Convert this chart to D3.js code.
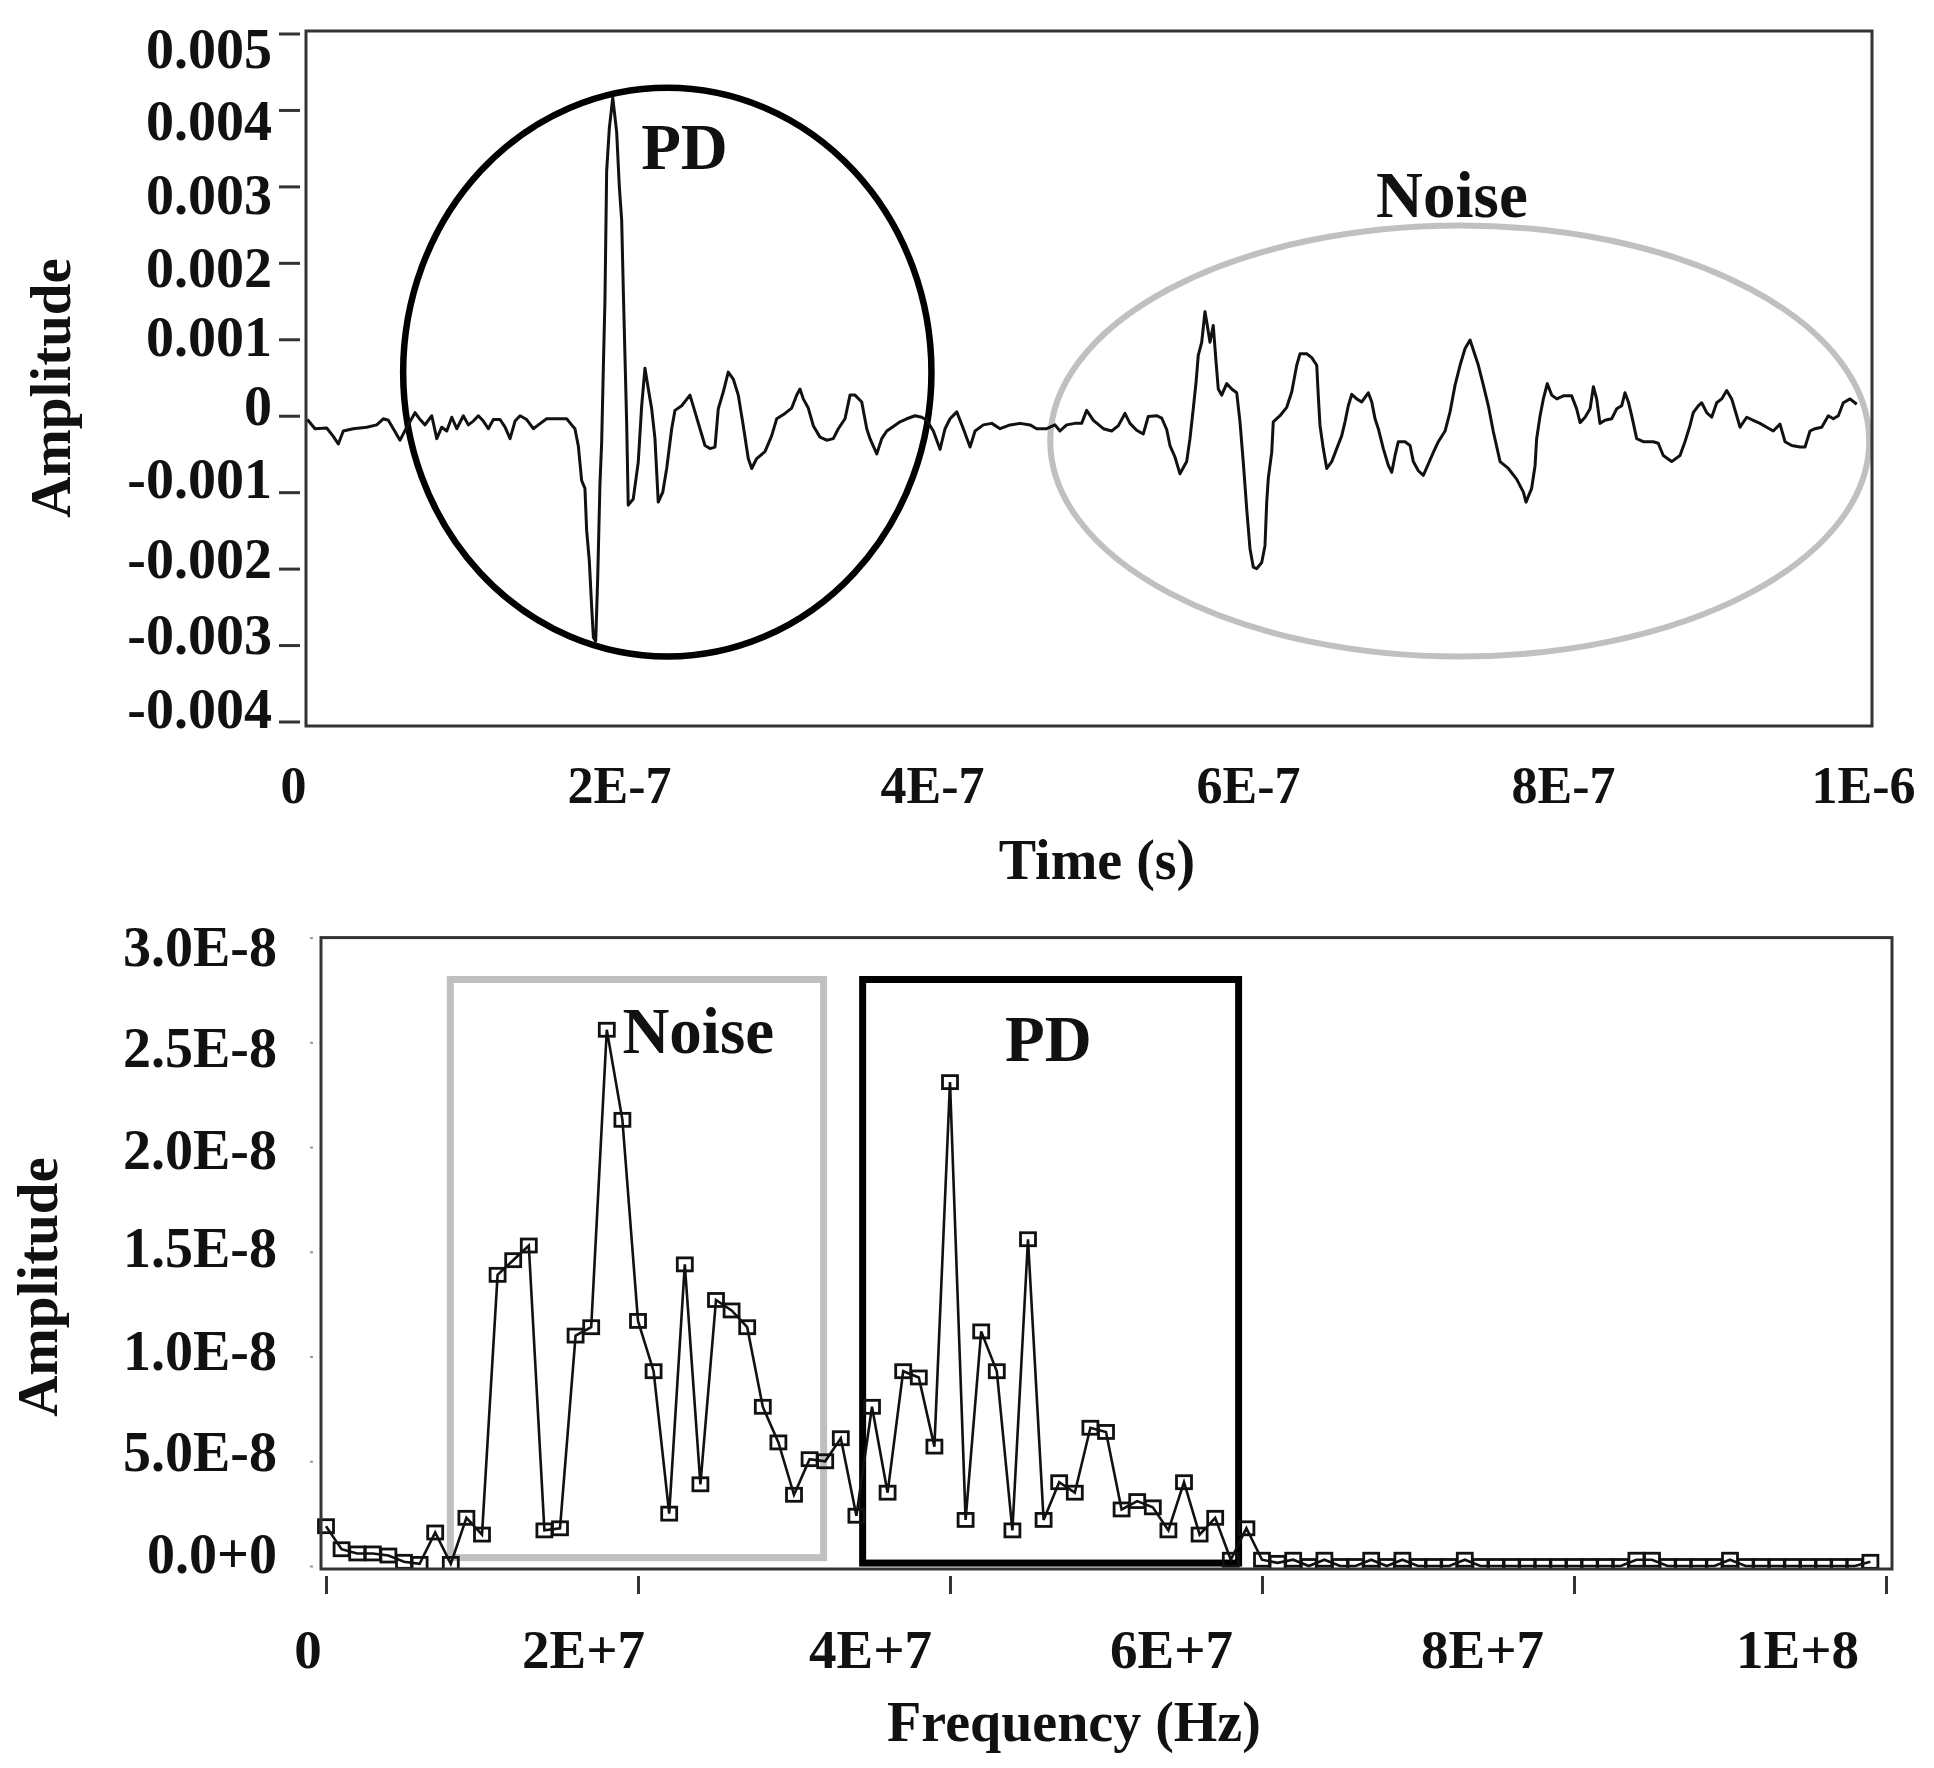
<!DOCTYPE html>
<html>
<head>
<meta charset="utf-8">
<script src="https://cdn.jsdelivr.net/npm/d3@7"></script>
<style>
  html, body { margin: 0; padding: 0; background: #fff; }
  svg { display: block; }
  text { font-family: "Liberation Serif", "Times New Roman", serif; font-weight: bold; fill: #111; }
</style>
</head>
<body>
<svg id="chart" width="1934" height="1768"></svg>
<script>
// ---- time domain signal (time in ns, amplitude in 1e-3) ----
const timeNs = [
  4.7, 9.6, 17.1, 21.3, 24.5, 27.7, 34.1, 42.7, 49.1, 53.3, 56.5, 59.7, 64.0, 67.8, 73.6, 76.8, 80.0, 84.3, 87.5, 90.7,
  93.9, 97.1, 100.3, 104.5, 107.7, 110.9, 114.1, 117.3, 120.5, 123.7, 128.0, 131.2, 134.4, 137.6, 140.8, 145.0, 149.3, 152.5, 157.8, 164.2,
  170.6, 173.8, 175.9, 178.1, 180.2, 182.3, 183.4, 185.1, 186.6, 187.7, 189.2, 190.5, 191.9, 193.0, 194.1, 195.1, 196.2, 197.9, 200.1, 202.6,
  204.3, 205.8, 206.9, 209.0, 210.0, 213.2, 216.4, 218.6, 220.7, 223.5, 225.0, 227.1, 229.2, 232.1, 234.6, 237.8, 239.9, 244.2, 249.5, 252.7,
  255.9, 259.1, 262.3, 265.5, 267.6, 270.8, 274.0, 277.2, 280.4, 283.6, 286.8, 289.0, 292.2, 297.5, 301.8, 305.0, 310.3, 314.6, 317.8, 319.9,
  322.0, 325.2, 328.4, 332.7, 337.0, 341.2, 344.4, 348.7, 351.9, 355.1, 359.4, 362.6, 364.7, 369.0, 372.2, 375.4, 379.6, 383.9, 388.2, 393.5,
  397.8, 401.0, 405.2, 409.5, 412.7, 415.9, 420.2, 424.4, 428.7, 431.9, 437.2, 442.6, 447.9, 454.3, 460.7, 467.1, 471.3, 477.7, 483.0, 486.2,
  490.5, 495.8, 500.1, 503.3, 507.6, 514.0, 519.3, 523.6, 527.8, 531.0, 535.3, 539.5, 542.7, 548.1, 551.3, 554.5, 556.6, 559.8, 563.0, 567.3,
  569.4, 571.5, 573.3, 574.7, 576.9, 579.0, 580.1, 582.2, 584.3, 586.1, 587.5, 589.7, 592.9, 596.1, 599.3, 601.4, 603.5, 604.6, 605.7, 607.8,
  609.9, 612.1, 615.3, 617.4, 618.5, 619.5, 621.7, 622.7, 627.0, 631.3, 634.5, 637.7, 639.8, 644.1, 647.3, 650.5, 651.6, 652.6, 654.7, 656.9,
  660.1, 663.3, 666.5, 668.6, 670.7, 672.9, 676.1, 679.3, 683.5, 685.7, 687.8, 689.9, 693.1, 696.3, 698.5, 700.6, 702.7, 707.0, 710.2, 712.3,
  715.5, 718.7, 721.9, 725.1, 728.3, 732.6, 735.8, 739.0, 742.2, 745.4, 748.6, 751.8, 753.9, 757.1, 760.3, 763.5, 767.8, 773.1, 778.4, 782.7,
  784.4, 788.0, 790.2, 791.2, 793.4, 795.5, 798.0, 800.8, 804.1, 808.3, 813.6, 816.8, 819.0, 822.2, 825.4, 827.5, 829.6, 831.7, 834.9, 839.2,
  842.4, 845.6, 847.7, 849.9, 852.0, 855.2, 859.4, 865.8, 869.0, 872.2, 877.6, 882.9, 886.1, 889.3, 891.4, 894.6, 896.8, 900.0, 903.2, 906.4,
  909.6, 912.8, 916.0, 919.2, 921.3, 925.6, 929.8, 934.1, 938.4, 942.6, 946.9, 950.1, 954.4, 959.7, 962.9, 966.1, 969.3, 973.6, 977.8, 981.0,
  984.2, 987.4, 991.7, 996.0
];
const amplitudeMilli = [
  -0.05, -0.17, -0.16, -0.27, -0.37, -0.2, -0.17, -0.15, -0.12, -0.04, -0.06, -0.17, -0.32, -0.17, 0.04, -0.05, -0.12, 0.0, -0.3, -0.15,
  -0.2, -0.02, -0.17, 0.0, -0.12, -0.07, 0.0, -0.07, -0.17, -0.05, -0.05, -0.15, -0.3, -0.07, 0.0, -0.05, -0.17, -0.12, -0.04, -0.04,
  -0.04, -0.12, -0.17, -0.4, -0.85, -0.95, -1.5, -1.9, -2.5, -2.9, -2.95, -2.1, -0.9, -0.35, 0.65, 1.5, 3.2, 3.76, 4.16, 3.71,
  3.0, 2.56, 1.6, -0.1, -1.17, -1.09, -0.61, 0.13, 0.62, 0.27, 0.09, -0.3, -1.13, -1.0, -0.69, -0.17, 0.07, 0.13, 0.27, 0.05,
  -0.17, -0.39, -0.43, -0.41, 0.09, 0.31, 0.57, 0.48, 0.27, -0.13, -0.56, -0.69, -0.56, -0.47, -0.26, -0.04, 0.03, 0.1, 0.27, 0.35,
  0.22, 0.1, -0.13, -0.28, -0.32, -0.3, -0.17, -0.04, 0.27, 0.27, 0.18, -0.17, -0.3, -0.5, -0.3, -0.2, -0.14, -0.08, -0.04, 0.0,
  -0.02, -0.06, -0.2, -0.44, -0.17, -0.04, 0.05, -0.17, -0.41, -0.2, -0.12, -0.1, -0.17, -0.12, -0.1, -0.12, -0.17, -0.17, -0.12, -0.2,
  -0.12, -0.1, -0.1, 0.07, -0.06, -0.17, -0.2, -0.13, 0.03, -0.1, -0.19, -0.24, -0.01, 0.0, -0.03, -0.18, -0.39, -0.54, -0.76, -0.6,
  -0.3, 0.09, 0.44, 0.79, 0.96, 1.36, 1.23, 0.96, 1.18, 0.7, 0.35, 0.27, 0.42, 0.35, 0.3, -0.08, -0.61, -0.91, -1.22, -1.74,
  -1.98, -2.0, -1.92, -1.7, -1.13, -0.82, -0.48, -0.08, 0.0, 0.11, 0.31, 0.66, 0.81, 0.81, 0.76, 0.66, 0.22, -0.13, -0.43, -0.69,
  -0.6, -0.43, -0.26, -0.08, 0.13, 0.28, 0.22, 0.18, 0.3, 0.18, -0.04, -0.17, -0.43, -0.65, -0.74, -0.52, -0.34, -0.34, -0.39, -0.6,
  -0.72, -0.78, -0.63, -0.48, -0.34, -0.2, 0.05, 0.4, 0.66, 0.88, 0.99, 0.79, 0.66, 0.4, 0.13, -0.21, -0.6, -0.69, -0.83, -1.0,
  -1.13, -0.95, -0.65, -0.3, 0.0, 0.22, 0.42, 0.27, 0.22, 0.26, 0.26, 0.09, -0.09, -0.02, 0.09, 0.38, 0.22, -0.1, -0.06, -0.04,
  0.09, 0.13, 0.3, 0.18, 0.0, -0.3, -0.34, -0.34, -0.36, -0.52, -0.6, -0.52, -0.34, -0.13, 0.04, 0.13, 0.17, 0.04, -0.02, 0.17,
  0.22, 0.33, 0.22, 0.0, -0.15, -0.02, -0.06, -0.1, -0.15, -0.2, -0.11, -0.34, -0.39, -0.41, -0.41, -0.2, -0.17, -0.15, 0.0, -0.04,
  0.0, 0.17, 0.22, 0.15
];
const timeTicks = [0, 2e-7, 4e-7, 6e-7, 8e-7, 1e-6];
const timeTickLabels = ["0", "2E-7", "4E-7", "6E-7", "8E-7", "1E-6"];
const ampTicks = [0.005, 0.004, 0.003, 0.002, 0.001, 0, -0.001, -0.002, -0.003, -0.004];
const ampTickLabels = ["0.005", "0.004", "0.003", "0.002", "0.001", "0", "-0.001", "-0.002", "-0.003", "-0.004"];

// ---- spectrum (frequency in MHz, amplitude in 1e-8) ----
const freqMHz = [
  0, 1, 2, 3, 4, 5, 6, 7, 8, 9, 10, 11, 12, 13, 14, 15, 16, 17, 18, 19,
  20, 21, 22, 23, 24, 25, 26, 27, 28, 29, 30, 31, 32, 33, 34, 35, 36, 37, 38, 39,
  40, 41, 42, 43, 44, 45, 46, 47, 48, 49, 50, 51, 52, 53, 54, 55, 56, 57, 58, 59,
  60, 61, 62, 63, 64, 65, 66, 67, 68, 69, 70, 71, 72, 73, 74, 75, 76, 77, 78, 79,
  80, 81, 82, 83, 84, 85, 86, 87, 88, 89, 90, 91, 92, 93, 94, 95, 96, 97, 98, 99
];
const spectrumE8 = [
  0.19, 0.08, 0.06, 0.06, 0.05, 0.02, 0.01, 0.16, 0.01, 0.23, 0.15, 1.39, 1.46, 1.53, 0.17, 0.18, 1.10, 1.14, 2.56, 2.13,
  1.17, 0.93, 0.25, 1.44, 0.39, 1.27, 1.22, 1.14, 0.76, 0.59, 0.34, 0.51, 0.50, 0.61, 0.24, 0.76, 0.35, 0.93, 0.90, 0.57,
  2.31, 0.22, 1.12, 0.93, 0.17, 1.56, 0.22, 0.40, 0.35, 0.66, 0.64, 0.27, 0.31, 0.28, 0.17, 0.40, 0.15, 0.23, 0.03, 0.18,
  0.03, 0.015, 0.03, 0.0, 0.03, 0.0, 0.0, 0.03, 0.0, 0.03, 0.0, 0.0, 0.0, 0.03, 0.0, 0.0, 0.0, 0.0, 0.0, 0.0,
  0.0, 0.0, 0.0, 0.0, 0.03, 0.03, 0.0, 0.0, 0.0, 0.0, 0.03, 0.0, 0.0, 0.0, 0.0, 0.0, 0.0, 0.0, 0.0, 0.02
];
const freqTicks = [0, 2e7, 4e7, 6e7, 8e7, 1e8];
const freqTickLabels = ["0", "2E+7", "4E+7", "6E+7", "8E+7", "1E+8"];
const specTicks = [0, 0.5e-8, 1e-8, 1.5e-8, 2e-8, 2.5e-8, 3e-8];
const specTickLabels = ["0.0+0", "5.0E-8", "1.0E-8", "1.5E-8", "2.0E-8", "2.5E-8", "3.0E-8"];

const svg = d3.select("#chart");

function styleLabels(g, size, dy) {
  g.select(".domain").remove();
  g.selectAll(".tick line").remove();
  g.selectAll(".tick text")
    .attr("x", 0).attr("y", dy).attr("dy", null)
    .attr("fill", "#111")
    .style("font-size", size + "px");
}

// ================= top: time domain =================
const topBox = { left: 306, right: 1872, top: 31, bottom: 726 };

const xTime = d3.scaleLinear().domain([0, 1e-6]).range([300, 1863]);
const yAmp = d3.scaleLinear().domain([-0.004, 0.005]).range([721.5, 33.5]);
// the original tick labels are not evenly spaced, so they get their own piecewise scales
const xTimeLabel = d3.scaleLinear().domain(timeTicks).range([293, 619, 932, 1248, 1563, 1863]);
const yAmpLabel = d3.scaleLinear().domain(ampTicks)
  .range([48.3, 120.8, 194, 267.5, 336.7, 405, 478, 558, 634, 708.6]);

const gTop = svg.append("g");

// PD / Noise ellipses
gTop.append("ellipse")
  .attr("cx", xTime(235e-9)).attr("cy", yAmp(0.00057))
  .attr("rx", xTime(169e-9) - xTime(0)).attr("ry", yAmp(0) - yAmp(0.00372))
  .attr("fill", "none").attr("stroke", "#000").attr("stroke-width", 6.5);
gTop.append("ellipse")
  .attr("cx", xTime(742e-9)).attr("cy", yAmp(-0.00033))
  .attr("rx", xTime(262e-9) - xTime(0)).attr("ry", yAmp(0) - yAmp(0.00282))
  .attr("fill", "none").attr("stroke", "#c0c0c0").attr("stroke-width", 6);

gTop.append("rect")
  .attr("x", topBox.left).attr("y", topBox.top)
  .attr("width", topBox.right - topBox.left).attr("height", topBox.bottom - topBox.top)
  .attr("fill", "none").attr("stroke", "#333").attr("stroke-width", 3);

const line = d3.line()
  .x(i => xTime(timeNs[i] * 1e-9))
  .y(i => yAmp(amplitudeMilli[i] * 1e-3));

gTop.append("path")
  .attr("d", line(d3.range(timeNs.length)))
  .attr("fill", "none").attr("stroke", "#111").attr("stroke-width", 3)
  .attr("stroke-linejoin", "round");

// y tick marks
gTop.append("g")
  .attr("transform", "translate(300,0)")
  .call(d3.axisLeft(yAmp).tickValues(ampTicks).tickSize(21).tickFormat(""))
  .call(g => g.select(".domain").remove())
  .call(g => g.selectAll(".tick line").attr("stroke", "#333").attr("stroke-width", 3));

// y tick labels
gTop.append("g")
  .attr("transform", "translate(272,0)")
  .call(d3.axisLeft(yAmpLabel).tickValues(ampTicks).tickFormat((d, i) => ampTickLabels[i]))
  .call(g => styleLabels(g, 56, 19));

// x tick labels (this panel has no x tick marks)
gTop.append("g")
  .attr("transform", "translate(0,803)")
  .call(d3.axisBottom(xTimeLabel).tickValues(timeTicks).tickFormat((d, i) => timeTickLabels[i]))
  .call(g => styleLabels(g, 52, 0));

gTop.append("text")
  .attr("transform", "translate(70,388) rotate(-90)")
  .attr("text-anchor", "middle").style("font-size", "57px")
  .text("Amplitude");

gTop.append("text")
  .attr("x", 1097).attr("y", 879)
  .attr("text-anchor", "middle").style("font-size", "56px")
  .text("Time (s)");

gTop.append("text")
  .attr("x", xTime(246e-9)).attr("y", yAmp(0.00323))
  .attr("text-anchor", "middle").style("font-size", "65px")
  .text("PD");
gTop.append("text")
  .attr("x", xTime(737e-9)).attr("y", yAmp(0.0026))
  .attr("text-anchor", "middle").style("font-size", "65px")
  .text("Noise");

// ================= bottom: spectrum =================
const botBox = { left: 321, right: 1892, top: 937.6, bottom: 1569 };

const xFreq = d3.scaleLinear().domain([0, 1e8]).range([326, 1886]);
const ySpec = d3.scaleLinear().domain([0, 3e-8]).range([1566, 937.6]);
const xFreqLabel = d3.scaleLinear().domain(freqTicks).range([307.5, 583, 870, 1171, 1482, 1797]);
const ySpecLabel = d3.scaleLinear().domain(specTicks)
  .range([1553.3, 1451.7, 1350, 1247.5, 1149, 1047.5, 946]);

const gBot = svg.append("g");

svg.append("defs").append("clipPath").attr("id", "spec-clip")
  .append("rect")
  .attr("x", botBox.left - 10).attr("y", botBox.top)
  .attr("width", botBox.right - botBox.left + 20).attr("height", botBox.bottom - botBox.top);

// Noise / PD boxes
gBot.append("rect")
  .attr("x", xFreq(7.97e6)).attr("y", ySpec(2.8e-8))
  .attr("width", xFreq(31.9e6) - xFreq(7.97e6)).attr("height", ySpec(0.04e-8) - ySpec(2.8e-8))
  .attr("fill", "none").attr("stroke", "#c0c0c0").attr("stroke-width", 7);
gBot.append("rect")
  .attr("x", xFreq(34.4e6)).attr("y", ySpec(2.8e-8))
  .attr("width", xFreq(58.5e6) - xFreq(34.4e6)).attr("height", ySpec(0.014e-8) - ySpec(2.8e-8))
  .attr("fill", "none").attr("stroke", "#000").attr("stroke-width", 7);

const specLine = d3.line()
  .x(i => xFreq(freqMHz[i] * 1e6))
  .y(i => ySpec(spectrumE8[i] * 1e-8));

const gSpec = gBot.append("g").attr("clip-path", "url(#spec-clip)");

gSpec.append("path")
  .attr("d", specLine(d3.range(freqMHz.length)))
  .attr("fill", "none").attr("stroke", "#111").attr("stroke-width", 2.6);

gSpec.append("g").selectAll("rect")
  .data(d3.range(freqMHz.length))
  .join("rect")
  .attr("x", i => xFreq(freqMHz[i] * 1e6) - 7.5)
  .attr("y", i => ySpec(spectrumE8[i] * 1e-8) - 6.5)
  .attr("width", 15).attr("height", 13)
  .attr("fill", "none").attr("stroke", "#111").attr("stroke-width", 2.8);

gBot.append("rect")
  .attr("x", botBox.left).attr("y", botBox.top)
  .attr("width", botBox.right - botBox.left).attr("height", botBox.bottom - botBox.top)
  .attr("fill", "none").attr("stroke", "#333").attr("stroke-width", 3);

// x tick marks
gBot.append("g")
  .attr("transform", "translate(0,1576)")
  .call(d3.axisBottom(xFreq).tickValues(freqTicks).tickSize(18).tickFormat(""))
  .call(g => g.select(".domain").remove())
  .call(g => g.selectAll(".tick line").attr("stroke", "#333").attr("stroke-width", 3));

// y tick marks (tiny)
gBot.append("g")
  .attr("transform", "translate(313,0)")
  .call(d3.axisLeft(ySpec).tickValues(specTicks).tickSize(3).tickFormat(""))
  .call(g => g.select(".domain").remove())
  .call(g => g.selectAll(".tick line").attr("stroke", "#999").attr("stroke-width", 2));

gBot.append("g")
  .attr("transform", "translate(277,0)")
  .call(d3.axisLeft(ySpecLabel).tickValues(specTicks).tickFormat((d, i) => specTickLabels[i]))
  .call(g => styleLabels(g, 56, 19));

gBot.append("g")
  .attr("transform", "translate(0,1668)")
  .call(d3.axisBottom(xFreqLabel).tickValues(freqTicks).tickFormat((d, i) => freqTickLabels[i]))
  .call(g => styleLabels(g, 55, 0));

gBot.append("text")
  .attr("transform", "translate(57,1287) rotate(-90)")
  .attr("text-anchor", "middle").style("font-size", "57px")
  .text("Amplitude");

gBot.append("text")
  .attr("x", 1074).attr("y", 1741)
  .attr("text-anchor", "middle").style("font-size", "56px")
  .text("Frequency (Hz)");

gBot.append("text")
  .attr("x", xFreq(19.0e6)).attr("y", ySpec(2.45e-8))
  .style("font-size", "65px")
  .text("Noise");
gBot.append("text")
  .attr("x", xFreq(46.3e6)).attr("y", ySpec(2.41e-8))
  .attr("text-anchor", "middle").style("font-size", "65px")
  .text("PD");
</script>
</body>
</html>
